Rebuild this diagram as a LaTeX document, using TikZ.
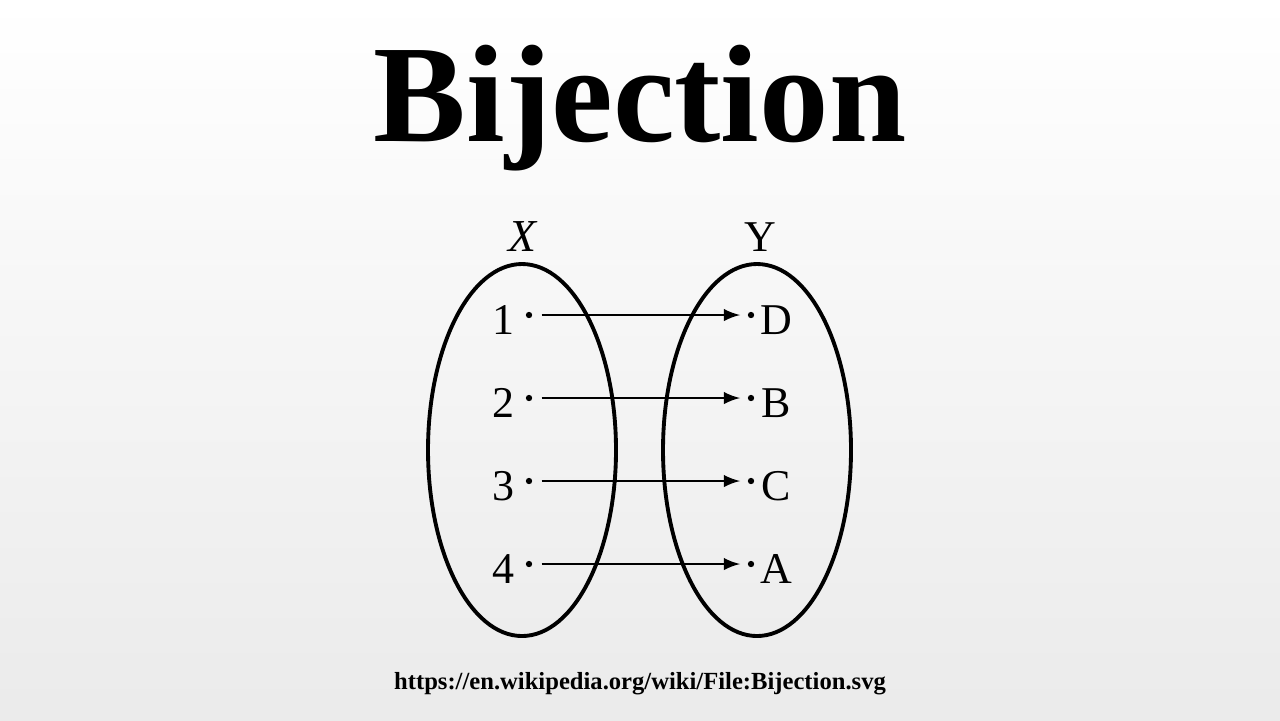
\documentclass[tikz,border=0pt]{standalone}
\usepackage{fontspec}
\setmainfont{Liberation Serif}
\begin{document}
\begin{tikzpicture}[x=0.01cm,y=-0.01cm,
  lbl/.style={font=\fontsize{12.5}{15}\selectfont, inner sep=0pt},
  pt/.style={circle,fill=black,inner sep=0pt,minimum size=1.8pt},
  arr/.style={-latex, line width=0.6pt},
  setell/.style={draw, line width=1.1pt}]
\shade[top color=white, bottom color=black!8, middle color=black!4] (0,0) rectangle (1280,720);
\useasboundingbox (0,0) rectangle (1280,720);
\node[font=\bfseries\fontsize{39.5}{45}\selectfont] (title) at (640,108) {Bijection};
\draw[setell] (522,450) ellipse [x radius=94, y radius=186];
\draw[setell] (757,450) ellipse [x radius=94, y radius=186];
\node[lbl, font=\itshape\fontsize{13}{15}\selectfont] (X) at (522,237) {X};
\node[lbl] (Y) at (760,237) {Y};
\foreach \n/\l/\y in {1/D/318,2/B/401,3/C/484,4/A/567}{
  \node[lbl] (n\n) at (503,\y+2) {\n};
  \node[pt] (p\n) at (529,\y-3) {};
  \node[pt] (q\n) at (751,\y-3) {};
  \node[lbl] (l\n) at (776,\y+2) {\l};
  \draw[arr] ([xshift=2.5pt]p\n.east) -- ([xshift=-2pt]q\n.west);
}
\node[font=\bfseries\fontsize{7}{8}\selectfont] (url) at (640,684) {https://en.wikipedia.org/wiki/File:Bijection.svg};
\end{tikzpicture}
\end{document}
